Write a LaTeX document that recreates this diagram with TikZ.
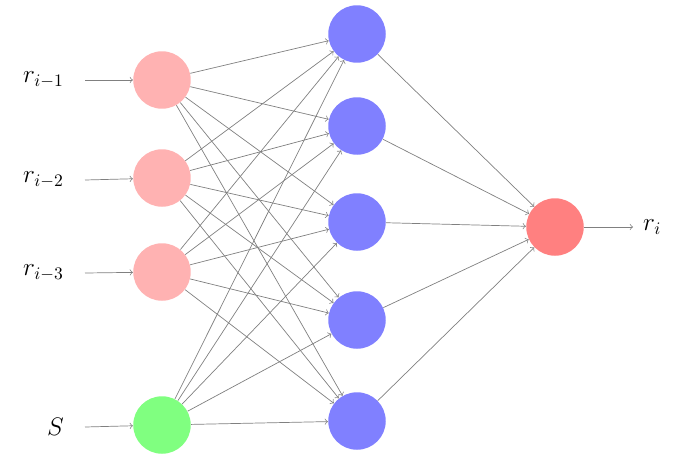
\documentclass[tikz,border=0pt]{standalone}
\begin{document}
\begin{tikzpicture}[x=0.02cm,y=-0.02cm,
  neuron/.style={circle,minimum size=1.15cm,inner sep=0pt},
  conn/.style={draw=gray,->,>=to,line width=0.4pt},
  lab/.style={font=\Large}]
\useasboundingbox (0,0) rectangle (679,457);
\node[neuron,fill=red!30] (i1) at (162,80) {};
\node[neuron,fill=red!30] (i2) at (162,178) {};
\node[neuron,fill=red!30] (i3) at (162,272) {};
\node[neuron,fill=green!50] (i4) at (162,425) {};
\node[neuron,fill=blue!50] (h1) at (357,34) {};
\node[neuron,fill=blue!50] (h2) at (357,126) {};
\node[neuron,fill=blue!50] (h3) at (357,222) {};
\node[neuron,fill=blue!50] (h4) at (357,320) {};
\node[neuron,fill=blue!50] (h5) at (357,421) {};
\node[neuron,fill=red!50] (o) at (555,227) {};
\node[lab,anchor=east] (l1) at (70,80) {$r_{i-1}$};
\node[lab,anchor=east] (l2) at (70,180) {$r_{i-2}$};
\node[lab,anchor=east] (l3) at (70,273) {$r_{i-3}$};
\node[lab,anchor=east] (l4) at (70,427) {$S$};
\node[lab,anchor=west] (lo) at (637,227) {$r_i$};
\coordinate (a1) at (85,80); \coordinate (a2) at (85,180);
\coordinate (a3) at (85,273); \coordinate (a4) at (85,427);
\coordinate (b) at (633,227);
\foreach \k in {1,2,3,4} {\draw[conn] (a\k) -- (i\k);}
\foreach \i in {1,2,3,4} {\foreach \j in {1,2,3,4,5} {\draw[conn] (i\i) -- (h\j);}}
\foreach \j in {1,2,3,4,5} {\draw[conn] (h\j) -- (o);}
\draw[conn] (o) -- (b);
\end{tikzpicture}
\end{document}
